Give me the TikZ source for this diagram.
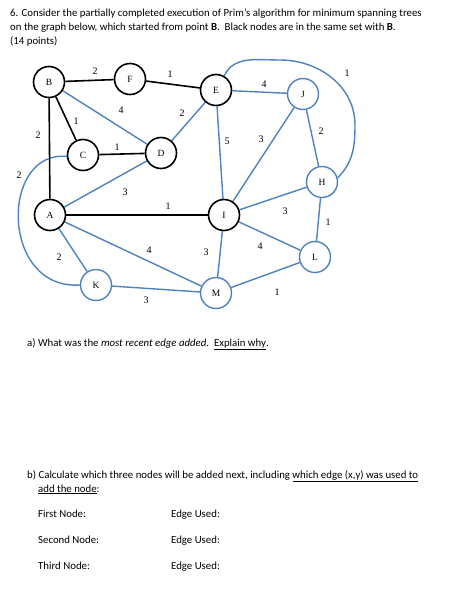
\documentclass[tikz,border=0pt]{standalone}
\usepackage{fontspec}
\setmainfont{Carlito}
\newfontfamily\serifnode{Liberation Serif}
\usetikzlibrary{backgrounds}
\begin{document}
\begin{tikzpicture}[x=1pt,y=-1pt,
  vtx/.style={circle,minimum size=31pt,inner sep=0pt,font=\serifnode\fontsize{9.5}{10}\selectfont,fill=white},
  blk/.style={vtx,draw=black,line width=1.6pt},
  blu/.style={vtx,draw=ublue,line width=1.4pt},
  bedge/.style={draw=black,line width=1.6pt},
  uedge/.style={draw=ublue,line width=1.4pt},
  wt/.style={font=\serifnode\fontsize{10}{10}\selectfont,inner sep=0pt},
  txt/.style={anchor=base west,inner sep=0pt,font=\fontsize{10.8}{13}\selectfont}]
\definecolor{ublue}{RGB}{79,129,189}
\useasboundingbox (0,0) rectangle (474,592);
% nodes
\node[blk] (B) at (49,82) {B};
\node[blk] (F) at (130,79) {F};
\node[blk] (E) at (216,90) {E};
\node[blu] (J) at (303,94) {J};
\node[blk] (C) at (83,155) {C};
\node[blk] (D) at (161,153) {D};
\node[blu] (H) at (322,182) {H};
\node[blk] (A) at (50,215) {A};
\node[blk] (I) at (224,215) {I};
\node[blu] (K) at (96,285) {K};
\node[blu] (M) at (216,293) {M};
\node[blu] (L) at (315,257) {L};
\coordinate (ehtop) at (280,60);
\coordinate (ehright) at (355,125);
% edges behind nodes
\begin{scope}[on background layer]
\path[uedge] (B) -- (D);
\path[uedge] (D) -- (E);
\path[uedge] (A) -- (D);
\path[uedge] (E) -- (I);
\path[uedge] (E) -- (J);
\path[uedge] (J) -- (I);
\path[uedge] (J) -- (H);
\path[uedge] (H) -- (I);
\path[uedge] (H) -- (L);
\path[uedge] (I) -- (L);
\path[uedge] (I) -- (M);
\path[uedge] (M) -- (L);
\path[uedge] (A) -- (M);
\path[uedge] (A) -- (K);
\path[uedge] (K) -- (M);
\path[uedge] (C.185) .. controls (0,150) and (0,290) .. (K.180);
\path[uedge] (E.60) to[out=65,in=180] (ehtop) to[out=0,in=90] (ehright) to[out=-90,in=45] (H.15);
\path[bedge] (B) -- (F);
\path[bedge] (F) -- (E);
\path[bedge] (B) -- (C);
\path[bedge] (B) -- (A);
\path[bedge] (C) -- (D);
\path[bedge] (A) -- (I);
\end{scope}
% weights
\node[wt] (w1) at (95,71) {2};
\node[wt] (w2) at (170,74) {1};
\node[wt] (w3) at (121,110) {4};
\node[wt] (w4) at (76,121) {1};
\node[wt] (w5) at (182,113) {2};
\node[wt] (w6) at (38,135) {2};
\node[wt] (w7) at (117,147) {1};
\node[wt] (w8) at (125,192) {3};
\node[wt] (w9) at (168,206) {1};
\node[wt] (w10) at (227,141) {5};
\node[wt] (w11) at (261,139) {3};
\node[wt] (w12) at (264,84) {4};
\node[wt] (w13) at (321,131) {2};
\node[wt] (w14) at (285,211) {3};
\node[wt] (w15) at (328,222) {1};
\node[wt] (w16) at (260,246) {4};
\node[wt] (w17) at (206,252) {3};
\node[wt] (w18) at (277,292) {1};
\node[wt] (w19) at (149,250) {4};
\node[wt] (w20) at (59,257) {2};
\node[wt] (w21) at (146,300) {3};
\node[wt] (w22) at (19,175) {2};
\node[wt] (w23) at (347,73) {1};
% text
\node[txt] (t1) at (10,16) {6. Consider the partially completed execution of Prim’s algorithm for minimum spanning trees};
\node[txt] (t2) at (10,30) {on the graph below, which started from point \textbf{B}.\ \ Black nodes are in the same set with \textbf{B}.};
\node[txt] (t3) at (10,44) {(14 points)};
\node[txt] (ta) at (27,346) {a) What was the \textit{most recent edge added}.\ \ \underline{Explain why}.};
\node[txt] (tb) at (27,478) {b) Calculate which three nodes will be added next, including \underline{which edge (x,y) was used to}};
\node[txt] (tb2) at (38,492) {\underline{add the node}:};
\node[txt] (f1) at (38,517) {First Node:};
\node[txt] (f2) at (171,517) {Edge Used:};
\node[txt] (s1) at (38,543) {Second Node:};
\node[txt] (s2) at (171,543) {Edge Used:};
\node[txt] (h1) at (38,569) {Third Node:};
\node[txt] (h2) at (171,569) {Edge Used:};
\end{tikzpicture}
\end{document}
